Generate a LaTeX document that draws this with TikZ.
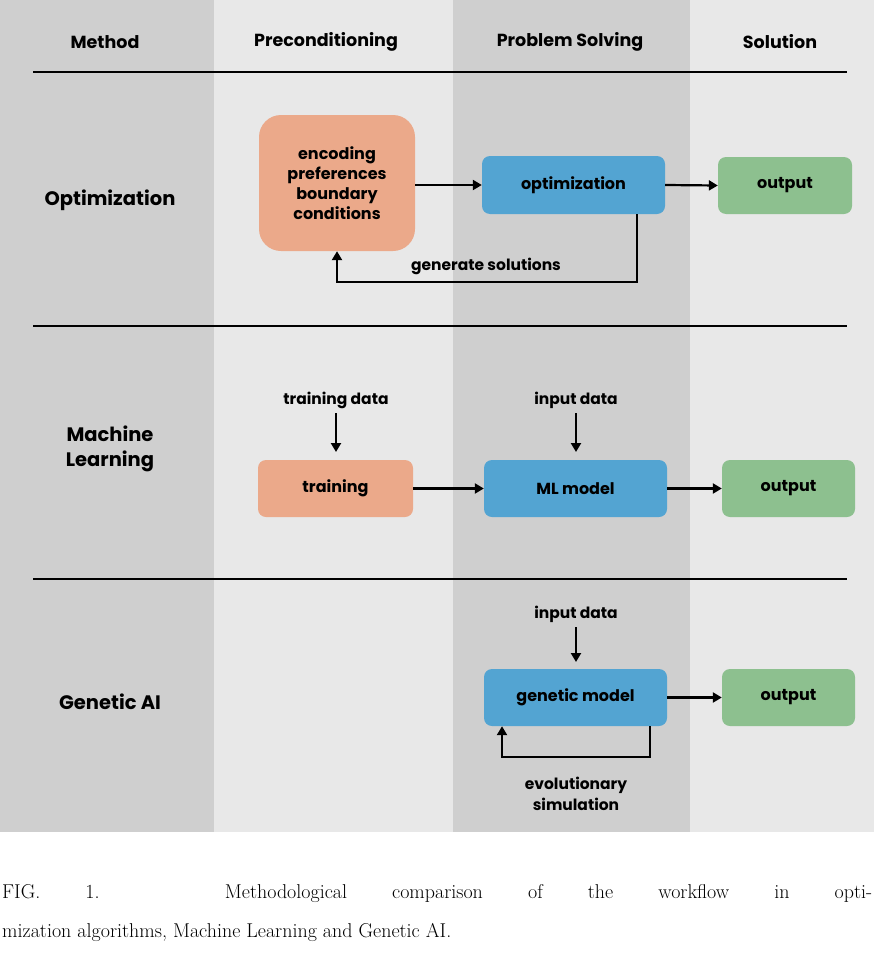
\documentclass[tikz,border=0pt]{standalone}
\usepackage{fontspec}
\setsansfont{Poppins}
\usetikzlibrary{arrows.meta}
\definecolor{dk}{HTML}{CFCFCF}
\definecolor{lt}{HTML}{E8E8E8}
\definecolor{orng}{HTML}{EBA98A}
\definecolor{blu}{HTML}{53A4D2}
\definecolor{grn}{HTML}{8DC08F}
\tikzset{
 box/.style={rounded corners=8pt, inner sep=0pt, font=\sffamily\bfseries\fontsize{16}{20}\selectfont, align=center},
 hdr/.style={font=\sffamily\bfseries\fontsize{17.5}{22}\selectfont},
 meth/.style={font=\sffamily\bfseries\fontsize{19.5}{25}\selectfont, align=center},
 lbl/.style={font=\sffamily\bfseries\fontsize{15.5}{21}\selectfont, align=center},
 arr/.style={line width=2.2pt, -{Triangle[length=9pt,width=10pt]}},
 rule/.style={line width=1.2pt}
}
\begin{document}
\begin{tikzpicture}[x=1pt,y=-1pt]
\useasboundingbox (0,0) rectangle (874,958);
\fill[dk] (0,0) rectangle (214,832);
\fill[lt] (214,0) rectangle (453,832);
\fill[dk] (453,0) rectangle (690,832);
\fill[lt] (690,0) rectangle (874,832);
\node[hdr] (h1) at (105,42) {Method};
\node[hdr] (h2) at (326,42) {Preconditioning};
\node[hdr] (h3) at (570,42) {Problem Solving};
\node[hdr] (h4) at (780,42) {Solution};
\draw[rule] (33,72) -- (847,72);
\draw[rule] (33,326) -- (847,326);
\draw[rule] (33,579) -- (847,579);
\node[meth] (m1) at (110,200) {Optimization};
\node[meth] (m2) at (110,449) {Machine\\Learning};
\node[meth] (m3) at (110,702) {Genetic AI};
% optimization
\node[box, fill=orng, rounded corners=22pt, minimum width=156pt, minimum height=136pt] (enc) at (337,183) {encoding\\preferences\\boundary\\conditions};
\node[box, fill=blu, minimum width=183pt, minimum height=58pt] (opt) at (573.5,185) {optimization};
\node[box, fill=grn, minimum width=134pt, minimum height=57pt] (out1) at (785,185.5) {output};
\draw[arr] (enc.east |- opt) -- (opt.west);
\draw[arr] (opt.east) -- (out1.west);
\coordinate (f1) at (637,282);
\coordinate (f2) at (337,282);
\draw[arr, -{Triangle[length=9pt,width=10pt]}] (opt.south -| f1) -- (f1) -- (f2) -- (enc.south);
\node[lbl] (gs) at (486,266) {generate solutions};
% ML
\node[lbl] (td) at (336,400) {training data};
\node[box, fill=orng, minimum width=155pt, minimum height=57pt] (tr) at (335.5,488.5) {training};
\node[lbl] (id1) at (576,400) {input data};
\node[box, fill=blu, minimum width=183pt, minimum height=57pt] (ml) at (575.5,488.5) {ML model};
\node[box, fill=grn, minimum width=133pt, minimum height=57pt] (out2) at (788.5,488.5) {output};
\draw[arr] (336,413) -- (336,452);
\draw[arr] (576,413) -- (576,452);
\draw[arr] (tr.east) -- (ml.west);
\draw[arr] (ml.east) -- (out2.west);
% GA
\node[lbl] (id2) at (576,614) {input data};
\node[box, fill=blu, minimum width=183pt, minimum height=57pt] (gm) at (575.5,697.5) {genetic model};
\node[box, fill=grn, minimum width=133pt, minimum height=57pt] (out3) at (788.5,697.5) {output};
\draw[arr] (576,627) -- (576,662);
\draw[arr] (gm.east) -- (out3.west);
\coordinate (g1) at (650,757);
\coordinate (g2) at (502,757);
\draw[arr] (gm.south -| g1) -- (g1) -- (g2) -- (gm.south -| g2);
\node[lbl] (ev) at (576,794) {evolutionary\\simulation};
% caption
\node[anchor=west, inner sep=0pt, font=\fontsize{20}{24}\selectfont] (c1) at (2,894) {\makebox[870pt][s]{FIG. 1. Methodological comparison of the workflow in opti-}};
\node[anchor=west, inner sep=0pt, font=\fontsize{20}{24}\selectfont] (c2) at (2,932) {mization algorithms, Machine Learning and Genetic AI.};
\end{tikzpicture}
\end{document}
